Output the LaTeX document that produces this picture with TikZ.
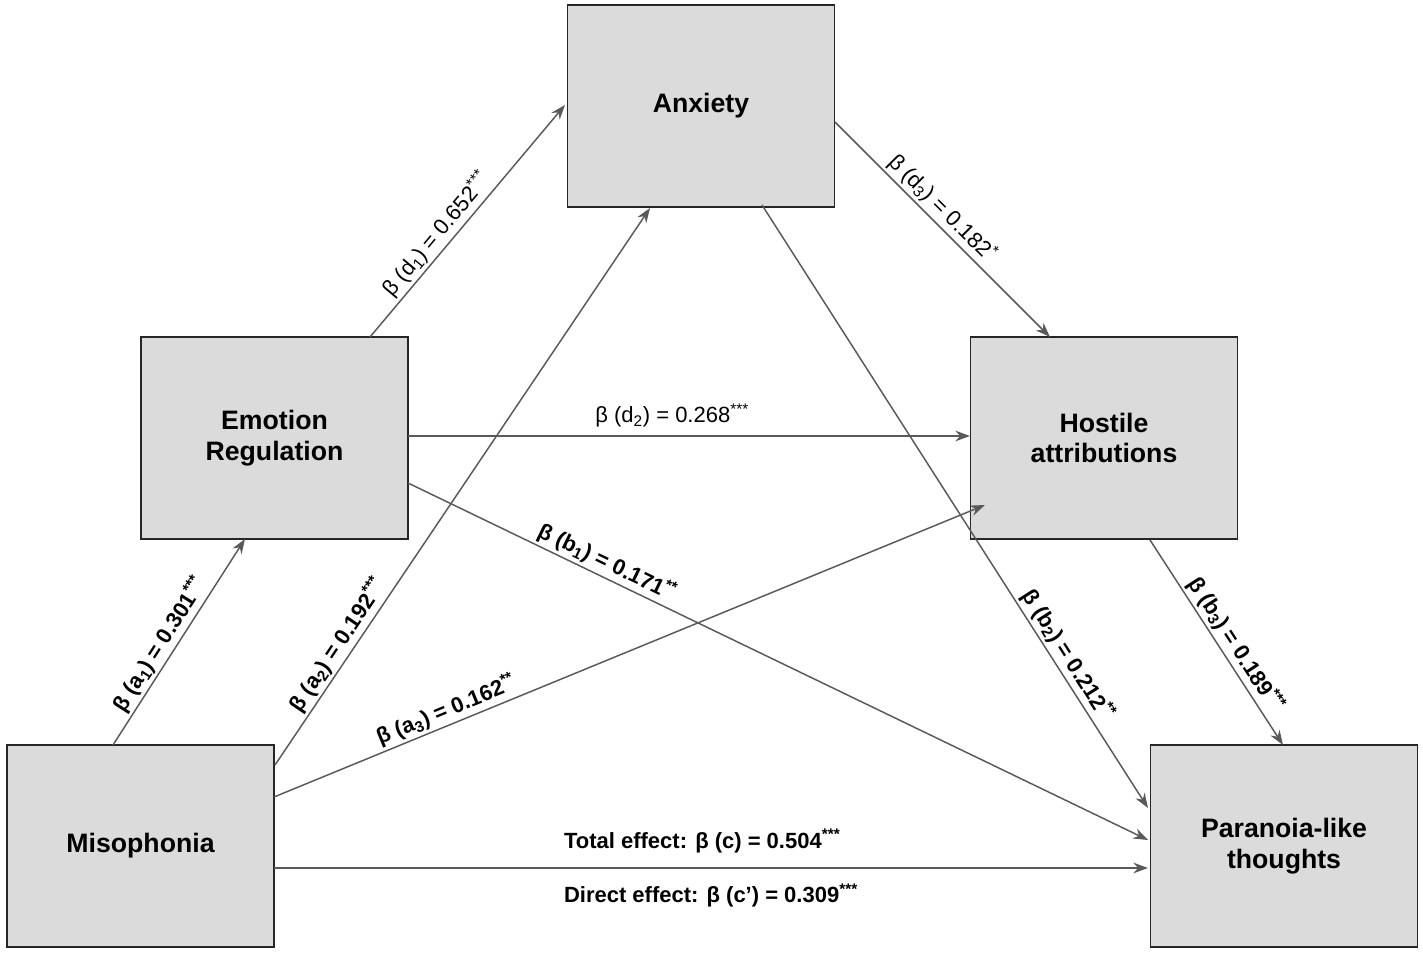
\documentclass[tikz,border=0pt]{standalone}
\usepackage{fontspec}
\setmainfont{Liberation Sans}
\usetikzlibrary{arrows.meta}
\begin{document}
\begin{tikzpicture}[x=0.75pt,y=-0.75pt,
  box/.style={draw=black!85,line width=1.3pt,fill=black!14,minimum width=267*0.75pt,minimum height=202*0.75pt,align=center,font=\fontsize{20}{23}\selectfont\bfseries,inner sep=0},
  arr/.style={draw=black!65,line width=1.1pt,-{Stealth[length=11pt,width=8pt]}},
  lab/.style={font=\fontsize{16.5}{18}\selectfont,sloped,inner sep=2pt},
  blab/.style={lab,font=\fontsize{16.5}{18}\selectfont\bfseries}]
\useasboundingbox (0,0) rectangle (1423,955);
\node[box] (anx) at (701,106) {Anxiety};
\node[box] (er) at (274.5,438) {Emotion\\Regulation};
\node[box] (hos) at (1104,438) {Hostile\\attributions};
\node[box] (mis) at (140.5,846) {Misophonia};
\node[box] (par) at (1284,846) {Paranoia-like\\thoughts};
\coordinate (erT) at (370,337); \coordinate (anxL) at (565,105);
\coordinate (misA) at (275,765); \coordinate (anxB) at (650,208);
\coordinate (anxR) at (835,122); \coordinate (hosT) at (1050,337);
\coordinate (anxB2) at (762,205); \coordinate (parA) at (1148,808);
\coordinate (erR) at (408,436); \coordinate (hosL) at (970,436);
\coordinate (erR2) at (408,483); \coordinate (parB) at (1148,840);
\coordinate (misB) at (274,797); \coordinate (hosB) at (985,505);
\coordinate (misT) at (113,745); \coordinate (erB) at (245,539);
\coordinate (hosB2) at (1150,540); \coordinate (parT) at (1283,745);
\coordinate (misR) at (274,868); \coordinate (parL) at (1148,868);
\draw[arr] (erT) -- node[lab,above,pos=0.4]{β (d\textsubscript{1}) = 0.652\textsuperscript{***}} (anxL);
\draw[arr] (misA) -- node[blab,above,pos=0.2]{β (a\textsubscript{2}) = 0.192\textsuperscript{***}} (anxB);
\draw[arr] (anxR) -- node[lab,above,pos=0.45]{β (d\textsubscript{3}) = 0.182\textsuperscript{*}} (hosT);
\draw[arr] (anxB2) -- node[blab,above,pos=0.76]{β (b\textsubscript{2}) = 0.212\textsuperscript{**}} (parA);
\draw[arr] (erR) -- node[lab,above=4pt,pos=0.47]{β (d\textsubscript{2}) = 0.268\textsuperscript{***}} (hosL);
\draw[arr] (erR2) -- node[blab,above,pos=0.26]{β (b\textsubscript{1}) = 0.171\textsuperscript{**}} (parB);
\draw[arr] (misB) -- node[blab,above,pos=0.25]{β (a\textsubscript{3}) = 0.162\textsuperscript{**}} (hosB);
\draw[arr] (misT) -- node[blab,above,pos=0.45]{β (a\textsubscript{1}) = 0.301\textsuperscript{***}} (erB);
\draw[arr] (hosB2) -- node[blab,above,pos=0.55]{β (b\textsubscript{3}) = 0.189\textsuperscript{***}} (parT);
\draw[arr] (misR) -- node[blab,above=9pt,pos=0.49]{Total effect: β (c) = 0.504\textsuperscript{***}}
  node[blab,below=9pt,pos=0.5]{Direct effect: β (c’) = 0.309\textsuperscript{***}} (parL);
\end{tikzpicture}
\end{document}
